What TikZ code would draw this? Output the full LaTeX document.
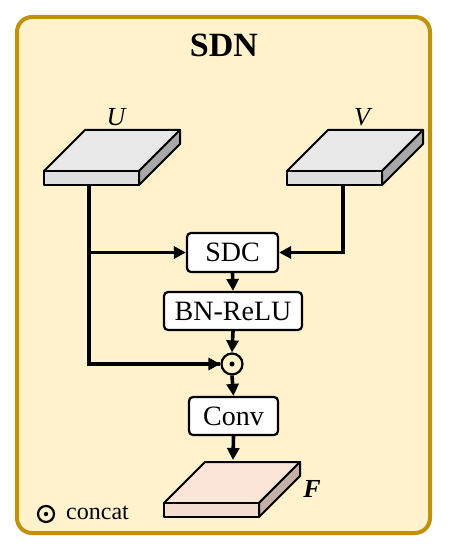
\documentclass[tikz,border=0pt]{standalone}
\usepackage{fontspec}
\setmainfont{Liberation Serif}
\usetikzlibrary{arrows.meta}
\definecolor{bgfill}{RGB}{255,242,204}
\definecolor{framec}{RGB}{191,146,10}
\definecolor{ptop}{RGB}{232,232,232}
\definecolor{pfront}{RGB}{222,222,222}
\definecolor{pside}{RGB}{168,168,168}
\definecolor{ftop}{RGB}{251,228,216}
\definecolor{ffront}{RGB}{245,220,208}
\definecolor{fside}{RGB}{196,176,166}
\newcommand\drawplate[5]{%
  % #1 x0, #2 y0 (front-left top corner), #3 top, #4 front, #5 side
  \draw[line width=2pt,line join=round,fill=#3] (#1,#2) -- ++(95,0) -- ++(41,-41) -- ++(-95,0) -- cycle;
  \draw[line width=2pt,line join=round,fill=#4] (#1,#2) rectangle ++(95,14);
  \draw[line width=2pt,line join=round,fill=#5] (#1+95,#2) -- ++(41,-41) -- ++(0,14) -- ++(-41,41) -- cycle;
}
\tikzset{
  box/.style={draw,line width=2.2pt,rounded corners=4pt,fill=white,inner sep=0pt,
    font=\fontsize{28}{30}\selectfont},
  conn/.style={line width=3.6pt,-{Triangle[length=12pt,width=12pt]}},
  odotc/.style={circle,draw,line width=2.2pt,minimum size=21pt,inner sep=0pt},
}
\begin{document}
\begin{tikzpicture}[x=1pt,y=-1pt]
\useasboundingbox (0,0) rectangle (450,548);
\fill[white] (0,0) rectangle (450,548);
\draw[framec,line width=4pt,fill=bgfill,rounded corners=15pt] (17,17) rectangle (430,533);
\node[font=\bfseries\fontsize{34}{36}\selectfont] (title) at (224,45) {SDN};

\drawplate{44}{171}{ptop}{pfront}{pside}
\drawplate{287}{171}{ptop}{pfront}{pside}
\drawplate{164}{503}{ftop}{ffront}{fside}

\node[font=\itshape\fontsize{26}{28}\selectfont] (Ulab) at (116,117) {U};
\node[font=\itshape\fontsize{26}{28}\selectfont] (Vlab) at (362,117) {V};
\node[font=\bfseries\itshape\fontsize{26}{28}\selectfont] (Flab) at (312,489) {F};

\coordinate (Ub) at (89,185);
\coordinate (Vb) at (343,185);
\coordinate (Ft) at (233,460);

\node[box,minimum width=91pt,minimum height=39pt] (sdc) at (232.5,252.5) {SDC};
\node[box,minimum width=138pt,minimum height=38pt] (bn) at (233,311) {BN-ReLU};
\node[odotc] (dot) at (232,364) {};
\fill (dot.center) circle (2.5pt);
\node[box,minimum width=89pt,minimum height=38pt] (conv) at (233.5,416) {Conv};

\coordinate (junc) at (Ub |- sdc.west);
\draw[line width=3.6pt] (Ub) |- (dot.west);
\draw[conn] (junc) -- (sdc.west);
\draw[conn] (Ub |- dot.west) -- (dot.west);
\draw[conn] (Vb) |- (sdc.east);
\draw[conn] (sdc.south) -- (bn.north);
\draw[conn] (bn.south) -- (dot.north);
\draw[conn] (dot.south) -- (conv.north);
\draw[conn] (conv.south) -- (Ft);

\node[odotc,minimum size=16pt,line width=2.2pt] (ldot) at (46,514) {};
\fill (ldot.center) circle (2.2pt);
\node[anchor=west,font=\fontsize{24}{26}\selectfont,inner sep=0pt] (lconcat) at (66,513) {concat};
\end{tikzpicture}
\end{document}
